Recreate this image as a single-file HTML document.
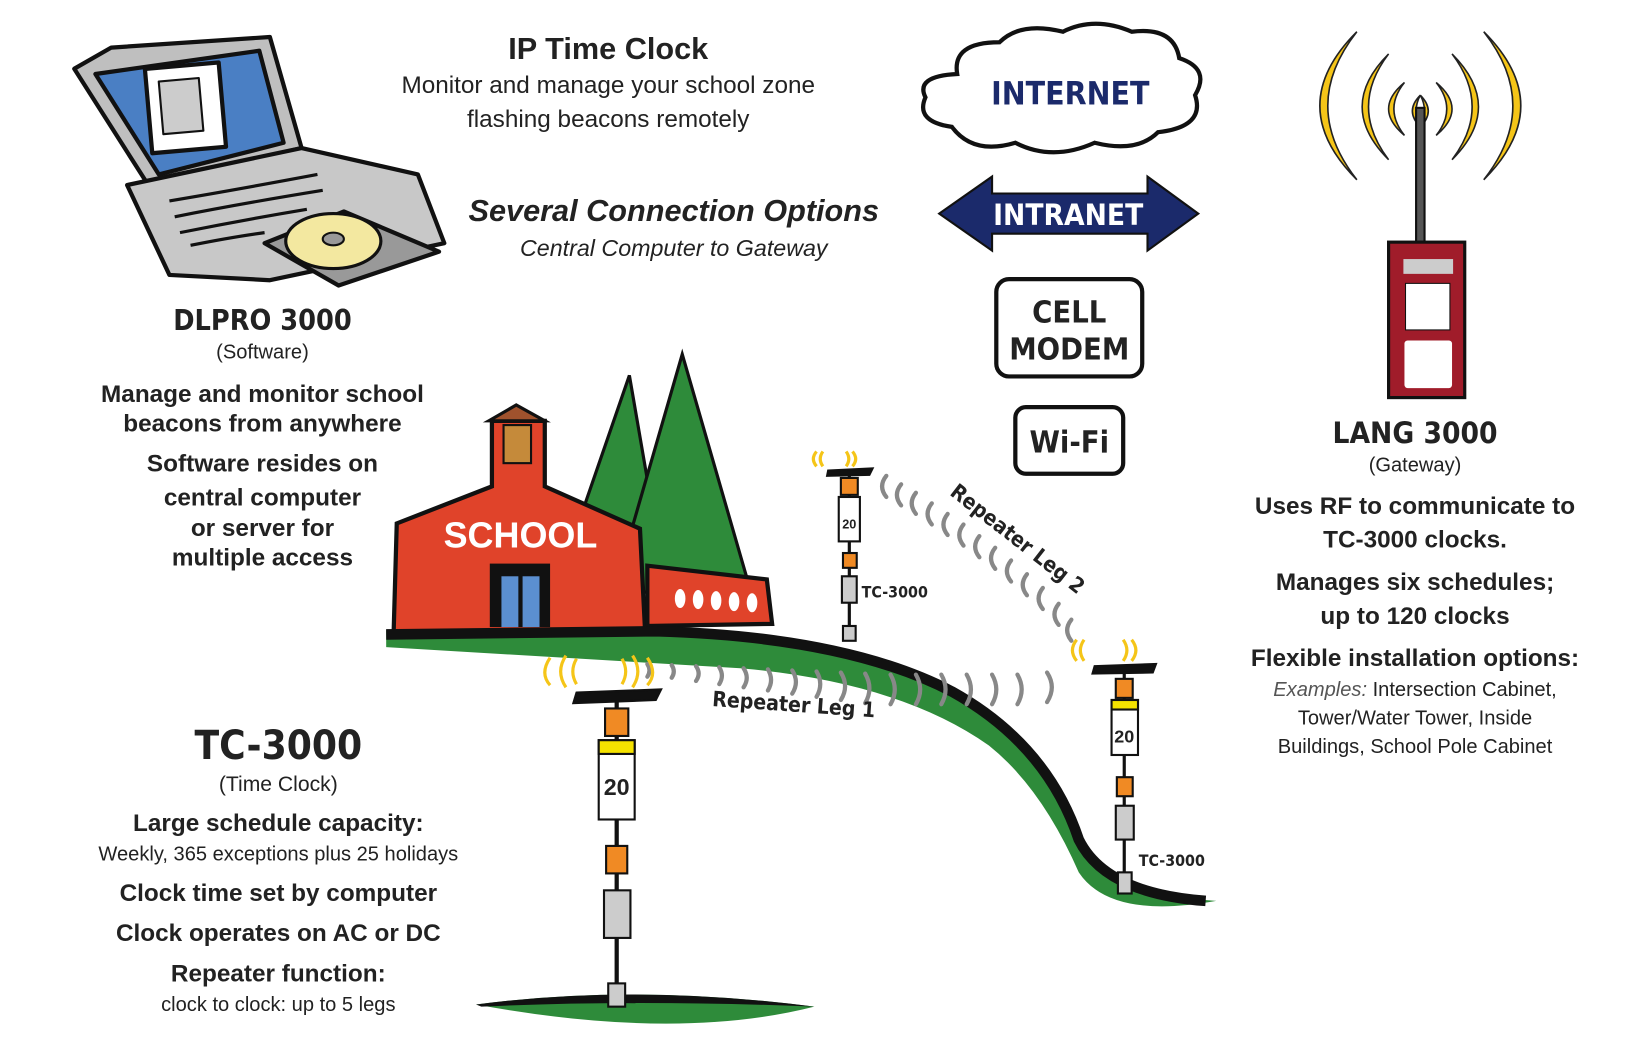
<!DOCTYPE html>
<html><head><meta charset="utf-8"><style>
html,body{margin:0;padding:0;background:#fff;}
svg{display:block;}
text{font-family:"Liberation Sans",sans-serif;fill:#222;text-anchor:middle;}
.b{font-weight:bold;}
.imp{font-family:"DejaVu Sans Condensed","Liberation Sans",sans-serif;font-weight:bold;}
</style></head><body>
<svg width="1650" height="1050" viewBox="0 0 1560 993" xmlns="http://www.w3.org/2000/svg">
<!-- Laptop -->
<g stroke="#111" stroke-width="4" stroke-linejoin="round">
<path d="M70 65 L105 45 L255 35 L285 140 L140 175 Z" fill="#bfbfbf"/>
<path d="M90 70 L245 48 L268 135 L150 165 Z" fill="#4a7fc4"/>
<rect x="140" y="62" width="70" height="80" fill="#fff" transform="rotate(-5 175 100)"/>
<rect x="152" y="75" width="38" height="50" fill="#ccc" stroke-width="2" transform="rotate(-5 175 100)"/>
<path d="M120 175 L285 140 L395 165 L420 230 L255 265 L160 260 Z" fill="#c8c8c8"/>
<path d="M250 230 L325 200 L415 238 L320 270 Z" fill="#999"/>
<ellipse cx="315" cy="228" rx="45" ry="26" fill="#f3e8a0" stroke-width="3"/>
<ellipse cx="315" cy="226" rx="10" ry="6" fill="#999" stroke-width="2"/>
</g>
<g stroke="#111" stroke-width="3" fill="none">
<path d="M160 190 q60 -10 140 -25 M165 205 q60 -12 140 -25 M170 220 q60 -12 120 -22 M180 232 q40 -8 70 -12"/>
</g>
<!-- Top text -->
<text x="575" y="56" class="b" font-size="29">IP Time Clock</text>
<text x="575" y="88" font-size="23">Monitor and manage your school zone</text>
<text x="575" y="120" font-size="23">flashing beacons remotely</text>
<text x="637" y="209" class="b" font-size="29" font-style="italic">Several Connection Options</text>
<text x="637" y="242" font-size="22" font-style="italic">Central Computer to Gateway</text>
<!-- Internet cloud -->
<path d="M905 70 q-5 -30 40 -30 q20 -20 60 -10 q30 -15 65 0 q40 -5 45 25 q30 10 15 35 q10 30 -35 35 q-20 20 -60 10 q-40 18 -75 0 q-40 12 -60 -15 q-35 -5 -25 -28 q-10 -20 30 -22 z" fill="#fff" stroke="#111" stroke-width="4"/>
<text x="1012" y="99" class="imp" font-size="30" style="fill:#1b2a6b">INTERNET</text>
<!-- Intranet arrow -->
<path d="M888 202 L938 167 L938 183 L1085 183 L1085 167 L1133 202 L1085 237 L1085 221 L938 221 L938 237 Z" fill="#1b2a6b" stroke="#111" stroke-width="2"/>
<text x="1010" y="213" class="imp" font-size="28" style="fill:#fff">INTRANET</text>
<!-- Cell modem -->
<rect x="942" y="264" width="138" height="92" rx="12" fill="#fff" stroke="#111" stroke-width="4"/>
<text x="1011" y="305" class="imp" font-size="29">CELL</text>
<text x="1011" y="340" class="imp" font-size="29">MODEM</text>
<rect x="960" y="385" width="102" height="63" rx="10" fill="#fff" stroke="#111" stroke-width="4"/>
<text x="1011" y="428" class="imp" font-size="29">Wi-Fi</text>
<!-- Gateway -->
<g fill="#f5c518" stroke="#222" stroke-width="1.5">
<path d="M1343 33 q-70 70 0 140 q-55 -70 0 -140z" transform="translate(-60 -3)"/>
<path d="M1343 53 q-50 50 0 100 q-38 -50 0 -100z" transform="translate(-30 -2)"/>
<path d="M1343 80 q-30 25 0 50 q-20 -25 0 -50z" transform="translate(-15 -2)"/>
<path d="M1343 90 q-15 15 0 30 q-8 -15 0 -30z"/>
<path d="M1343 33 q70 70 0 140 q55 -70 0 -140z" transform="translate(60 -3)"/>
<path d="M1343 53 q50 50 0 100 q38 -50 0 -100z" transform="translate(30 -2)"/>
<path d="M1343 80 q30 25 0 50 q20 -25 0 -50z" transform="translate(15 -2)"/>
<path d="M1343 90 q15 15 0 30 q8 -15 0 -30z"/>
</g>
<rect x="1339" y="102" width="8" height="128" fill="#555" stroke="#111" stroke-width="2"/>
<rect x="1313" y="229" width="72" height="147" fill="#a01c2a" stroke="#111" stroke-width="3"/>
<rect x="1327" y="245" width="47" height="14" fill="#ccc"/>
<g fill="#fff" stroke="#111"><rect x="1329" y="268" width="42" height="44"/></g>
<rect x="1328" y="322" width="45" height="45" rx="3" fill="#fff"/>
<!-- Right text -->
<text x="1338" y="419" class="imp" font-size="28">LANG 3000</text>
<text x="1338" y="446" font-size="19">(Gateway)</text>
<g class="b" font-size="23"><text x="1338" y="486">Uses RF to communicate to</text><text x="1338" y="518">TC-3000 clocks.</text><text x="1338" y="558">Manages six schedules;</text><text x="1338" y="590">up to 120 clocks</text><text x="1338" y="630">Flexible installation options:</text></g>
<g font-size="19"><text x="1338" y="658"><tspan font-style="italic" fill="#555">Examples:</tspan> Intersection Cabinet,</text><text x="1338" y="685">Tower/Water Tower, Inside</text><text x="1338" y="712">Buildings, School Pole Cabinet</text></g>
<!-- Left text -->
<text x="248" y="312" class="imp" font-size="27">DLPRO 3000</text>
<text x="248" y="339" font-size="19">(Software)</text>
<g class="b" font-size="23"><text x="248" y="380">Manage and monitor school</text><text x="248" y="408">beacons from anywhere</text><text x="248" y="446">Software resides on</text><text x="248" y="478">central computer</text><text x="248" y="507">or server for</text><text x="248" y="535">multiple access</text></g>
<!-- Trees -->
<path d="M595 355 L545 500 L620 500 Z" fill="#2e8b3a" stroke="#111" stroke-width="3"/>
<path d="M645 335 L580 560 L710 560 Z" fill="#2e8b3a" stroke="#111" stroke-width="3"/>
<!-- School -->
<path d="M375 495 L465 460 L465 398 L515 398 L515 460 L605 500 L610 600 L372 600 Z" fill="#e0432a" stroke="#111" stroke-width="4"/>
<path d="M462 398 L488 383 L515 398 Z" fill="#a0522d" stroke="#111" stroke-width="3"/>
<rect x="476" y="402" width="26" height="36" fill="#c58a3a" stroke="#111" stroke-width="2"/>
<rect x="463" y="533" width="57" height="60" fill="#111"/>
<rect x="474" y="545" width="16" height="48" fill="#5b8fd0"/><rect x="494" y="545" width="16" height="48" fill="#5b8fd0"/>
<path d="M612 535 L725 548 L730 590 L612 592 Z" fill="#e0432a" stroke="#111" stroke-width="4"/>
<g fill="#fff"><ellipse cx="643" cy="566" rx="5" ry="9"/><ellipse cx="660" cy="567" rx="5" ry="9"/><ellipse cx="677" cy="568" rx="5" ry="9"/><ellipse cx="694" cy="569" rx="5" ry="9"/><ellipse cx="711" cy="570" rx="5" ry="9"/></g>
<text x="492" y="518" class="b" font-size="34" style="fill:#fff">SCHOOL</text>
<!-- Ground -->
<path d="M365 596 L620 593 Q800 598 900 650 Q990 700 1020 790 Q1045 845 1150 852 Q1050 870 1020 825 Q985 745 935 705 Q850 645 700 632 L365 612 Z" fill="#2e8b3a"/>
<path d="M365 600 L620 597 Q800 602 900 654 Q990 704 1020 794 Q1045 845 1140 852" fill="none" stroke="#111" stroke-width="10"/>
<path d="M450 950 Q600 930 770 952 Q640 985 450 950 Z" fill="#2e8b3a"/><path d="M450 950 Q600 930 770 952 Q600 945 455 952 Z" fill="#111"/>
<!-- Dashes -->
<g fill="none" stroke="#888" stroke-width="4" stroke-linecap="round">
<path d="M612 628 q4 6 0 12 M635 629 q4 6 0 12 M658 630 q5 7 0 14 M680 631 q5 8 0 16 M703 632 q6 9 0 18 M726 633 q6 10 0 20 M749 634 q7 11 0 22 M772 635 q7 12 0 24 M795 636 q8 13 0 26 M818 637 q8 14 0 28 M842 638 q8 14 0 28 M866 638 q8 14 0 28 M890 638 q8 14 0 28 M914 638 q8 14 0 28 M938 638 q8 14 0 28 M962 638 q8 14 0 28 M990 636 q9 14 0 28"/>
<path d="M838 450 q-8 10 0 20 M852 458 q-8 10 0 20 M866 466 q-8 10 0 20 M881 476 q-8 10 0 20 M896 486 q-8 10 0 20 M911 496 q-8 10 0 20 M926 507 q-8 10 0 20 M941 518 q-8 10 0 20 M956 530 q-8 10 0 20 M971 543 q-8 10 0 20 M986 556 q-8 10 0 20 M1001 571 q-8 10 0 20 M1013 586 q-8 10 0 20"/>
</g>
<text class="imp" font-size="20" transform="translate(750 673) rotate(4)">Repeater Leg 1</text>
<text class="imp" font-size="20" transform="translate(958 515) rotate(38)">Repeater Leg 2</text>
<!-- Poles -->
<g stroke="#111" stroke-width="2">
<line x1="583" y1="655" x2="583" y2="945" stroke-width="4"/>
<path d="M545 655 L625 652 L620 662 L542 665 Z" fill="#111"/>
<rect x="572" y="670" width="22" height="26" fill="#f08a24"/>
<rect x="566" y="700" width="34" height="75" fill="#fff"/><rect x="566" y="700" width="34" height="13" fill="#f5e200"/>
<rect x="573" y="800" width="20" height="26" fill="#f08a24"/>
<rect x="571" y="842" width="25" height="45" fill="#ccc"/>
<rect x="575" y="930" width="16" height="22" fill="#ccc"/>
<line x1="803" y1="445" x2="803" y2="605" stroke-width="3"/>
<path d="M783 445 L825 443 L822 449 L782 450 Z" fill="#111"/>
<rect x="795" y="452" width="16" height="16" fill="#f08a24"/>
<rect x="793" y="470" width="20" height="42" fill="#fff"/>
<rect x="797" y="523" width="13" height="14" fill="#f08a24"/>
<rect x="796" y="545" width="14" height="25" fill="#ccc"/>
<rect x="797" y="592" width="12" height="14" fill="#ccc"/>
<line x1="1063" y1="630" x2="1063" y2="845" stroke-width="3"/>
<path d="M1035 630 L1093 628 L1090 636 L1033 637 Z" fill="#111"/>
<rect x="1055" y="642" width="16" height="18" fill="#f08a24"/>
<rect x="1051" y="662" width="25" height="52" fill="#fff"/><rect x="1051" y="662" width="25" height="9" fill="#f5e200"/>
<rect x="1056" y="735" width="15" height="18" fill="#f08a24"/>
<rect x="1055" y="762" width="17" height="32" fill="#ccc"/>
<rect x="1057" y="825" width="13" height="20" fill="#ccc"/>
</g>
<text x="583" y="752" class="b" font-size="22">20</text>
<text x="803" y="500" class="b" font-size="12">20</text>
<text x="1063" y="702" class="b" font-size="17">20</text>
<g fill="none" stroke="#f5c518" stroke-width="3">
<path d="M535 620 q-10 15 0 30 M545 623 q-7 12 0 24 M598 620 q10 15 0 30 M588 623 q7 12 0 24 M520 622 q-10 15 0 26 M612 622 q10 15 0 26"/>
<path d="M778 427 q-5 7 0 14 M772 427 q-6 7 0 14 M800 427 q5 7 0 14 M806 427 q6 7 0 14"/>
<path d="M1025 605 q-7 10 0 20 M1018 605 q-8 10 0 20 M1062 605 q7 10 0 20 M1070 605 q8 10 0 20"/>
</g>
<text x="846" y="565" class="imp" font-size="15">TC-3000</text>
<text x="1108" y="819" class="imp" font-size="15">TC-3000</text>
<!-- TC text -->
<text x="263" y="718" class="imp" font-size="38">TC-3000</text>
<text x="263" y="748" font-size="20">(Time Clock)</text>
<g class="b" font-size="23"><text x="263" y="786">Large schedule capacity:</text><text x="263" y="852">Clock time set by computer</text><text x="263" y="890">Clock operates on AC or DC</text><text x="263" y="928">Repeater function:</text></g>
<text x="263" y="814" font-size="19">Weekly, 365 exceptions plus 25 holidays</text>
<text x="263" y="956" font-size="19">clock to clock: up to 5 legs</text>
</svg>
</body></html>
